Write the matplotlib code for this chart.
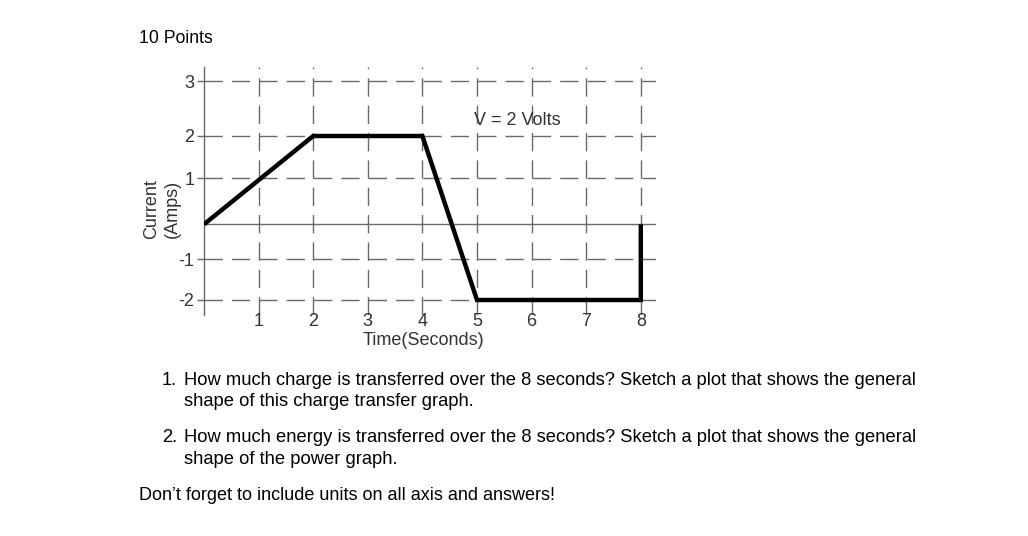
import matplotlib
matplotlib.use('Agg')
import matplotlib.pyplot as plt
import numpy as np

plt.rcParams['font.family'] = ['Liberation Sans', 'DejaVu Sans']
plt.rcParams['lines.scale_dashes'] = False

# current waveform: time (s) vs current (A)
time_s = [0, 2, 4, 5, 8, 8]
current_a = [0, 2, 2, -2, -2, 0]

x_ticks = [1, 2, 3, 4, 5, 6, 7, 8]
y_ticks = [-2, -1, 1, 2, 3]

questions = [
    ("1.", ["How much charge is transferred over the 8 seconds? Sketch a plot that shows the general",
            "shape of this charge transfer graph."]),
    ("2.", ["How much energy is transferred over the 8 seconds? Sketch a plot that shows the general",
            "shape of the power graph."]),
]
footer = "Don\u2019t forget to include units on all axis and answers!"

W, H = 1028, 536

# the printed grid is not evenly spaced vertically, so use a piecewise scale
grid_vals = np.array([-2.4, -2, -1, 0, 1, 2, 3, 3.4])
grid_px = np.array([316.0, 300.0, 259.3, 224.3, 178.3, 136.0, 81.0, 59.0])


def fwd(y):
    return np.interp(y, grid_vals, -grid_px)


def inv(v):
    return np.interp(v, -grid_px, grid_vals)


def fxy(px, py):
    return px / W, 1 - py / H


fig = plt.figure(figsize=(W / 100, H / 100), dpi=100)
fig.patch.set_facecolor('white')

left, right, top, bottom = 204, 656, 67, 315
ax = fig.add_axes([left / W, 1 - bottom / H, (right - left) / W, (bottom - top) / H])
ax.set_yscale('function', functions=(fwd, inv))
ax.set_xlim(0, (right - left) / 54.6)
ax.set_ylim(inv(-bottom), inv(-top))

grid_col = '#6a6a6a'
dash = (0, (13.2, 6.5))
ax.set_xticks(x_ticks)
ax.set_yticks(y_ticks)
ax.set_xticklabels([str(t) for t in x_ticks])
ax.set_yticklabels([str(t) for t in y_ticks])
ax.grid(True, color=grid_col, linestyle=dash, linewidth=1.0, zorder=1)
ax.axhline(0, color=grid_col, linewidth=1.0, zorder=2)

for s in ['top', 'right', 'bottom']:
    ax.spines[s].set_visible(False)
ax.spines['left'].set_color(grid_col)
ax.spines['left'].set_linewidth(1.0)

ax.tick_params(axis='y', direction='out', length=5, width=1.0, color=grid_col,
               pad=2, labelsize=13, labelcolor='#333333')
ax.tick_params(axis='x', length=0, pad=-1.5, labelsize=13, labelcolor='#333333')

ax.plot(time_s, current_a, color='black', linewidth=3.2, solid_joinstyle='miter',
        solid_capstyle='butt', zorder=3)

ax.text(4.95, 2.2, 'V = 2 Volts', fontsize=13, color='#333333', va='baseline', zorder=4)

fig.text(*fxy(423, 345), 'Time(Seconds)', fontsize=13, color='#333333',
         ha='center', va='baseline')
fig.text(*fxy(162, 209), 'Current\n(Amps)', fontsize=13, color='#333333',
         rotation=90, ha='center', va='center', multialignment='center', linespacing=1.25)

# surrounding worksheet text
fig.text(*fxy(139, 43), '10 Points', fontsize=12.7, va='baseline')
q_rows = [385, 442.5]
for (num, lines), yb in zip(questions, q_rows):
    fig.text(*fxy(162, yb), num, fontsize=13.25, va='baseline')
    for k, line in enumerate(lines):
        fig.text(*fxy(184, yb + 21.5 * k), line, fontsize=13.25, va='baseline')
fig.text(*fxy(139, 500.5), footer, fontsize=13, va='baseline')

fig.savefig('out.png', dpi=100)
